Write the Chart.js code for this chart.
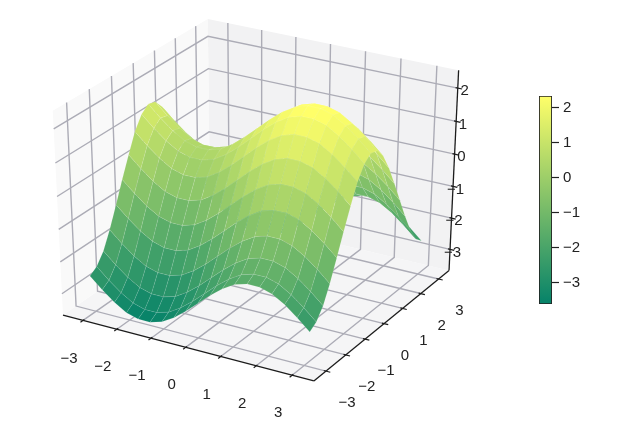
<!DOCTYPE html>
<html lang="en">
<head>
    <meta charset="UTF-8">
    <title>Surface</title>
    <script src="https://cdn.jsdelivr.net/npm/chart.js"></script>
    <style>
        html, body { margin: 0; padding: 0; background: #fff; overflow: hidden; }
        canvas { position: absolute; }
        #surfaceChart { left: 0; top: 0; }
        #colorbarChart { left: 537px; top: 83px; }
    </style>
</head>
<body>
<canvas id="surfaceChart" width="640" height="441"></canvas>
<canvas id="colorbarChart" width="60" height="234"></canvas>
<script>
    // values
    const xValues = [-3.14, -2.79, -2.44, -2.09, -1.75, -1.40, -1.05, -0.70, -0.35, 0, 0.35, 0.70, 1.05, 1.40, 1.75, 2.09, 2.44, 2.79, 3.14];
    const yValues = [-3.00, -2.68, -2.35, -2.03, -1.70, -1.38, -1.05, -0.73, -0.40, -0.08, 0.25, 0.57, 0.90, 1.22, 1.55, 1.87, 2.20, 2.52, 2.85];
    // one row per y value, one column per x value
    const zRows = [
        [-2.60, -2.94, -3.24, -3.47, -3.58, -3.58, -3.47, -3.24, -2.94, -2.60, -2.26, -1.96, -1.73, -1.62, -1.62, -1.73, -1.96, -2.26, -2.60],
        [-2.45, -2.79, -3.09, -3.32, -3.43, -3.43, -3.32, -3.09, -2.79, -2.45, -2.11, -1.81, -1.58, -1.47, -1.47, -1.58, -1.81, -2.11, -2.45],
        [-2.11, -2.45, -2.75, -2.98, -3.09, -3.09, -2.98, -2.75, -2.45, -2.11, -1.77, -1.47, -1.24, -1.13, -1.13, -1.24, -1.47, -1.77, -2.11],
        [-1.59, -1.93, -2.23, -2.46, -2.57, -2.57, -2.46, -2.23, -1.93, -1.59, -1.25, -0.95, -0.72, -0.61, -0.61, -0.72, -0.95, -1.25, -1.59],
        [-0.96, -1.30, -1.60, -1.83, -1.94, -1.94, -1.83, -1.60, -1.30, -0.96, -0.62, -0.32, -0.09, 0.02, 0.02, -0.09, -0.32, -0.62, -0.96],
        [-0.32, -0.66, -0.96, -1.19, -1.30, -1.30, -1.19, -0.96, -0.66, -0.32, 0.02, 0.32, 0.55, 0.66, 0.66, 0.55, 0.32, 0.02, -0.32],
        [0.30, -0.04, -0.34, -0.57, -0.68, -0.68, -0.57, -0.34, -0.04, 0.30, 0.64, 0.94, 1.17, 1.28, 1.28, 1.17, 0.94, 0.64, 0.30],
        [0.87, 0.53, 0.23, 0, -0.11, -0.11, 0, 0.23, 0.53, 0.87, 1.21, 1.51, 1.74, 1.85, 1.85, 1.74, 1.51, 1.21, 0.87],
        [1.26, 0.92, 0.62, 0.39, 0.28, 0.28, 0.39, 0.62, 0.92, 1.26, 1.60, 1.90, 2.13, 2.24, 2.24, 2.13, 1.90, 1.60, 1.26],
        [1.44, 1.10, 0.80, 0.57, 0.46, 0.46, 0.57, 0.80, 1.10, 1.44, 1.78, 2.08, 2.31, 2.42, 2.42, 2.31, 2.08, 1.78, 1.44],
        [1.38, 1.04, 0.74, 0.51, 0.40, 0.40, 0.51, 0.74, 1.04, 1.38, 1.72, 2.02, 2.25, 2.36, 2.36, 2.25, 2.02, 1.72, 1.38],
        [1.10, 0.76, 0.46, 0.23, 0.12, 0.12, 0.23, 0.46, 0.76, 1.10, 1.44, 1.74, 1.97, 2.08, 2.08, 1.97, 1.74, 1.44, 1.10],
        [0.60, 0.26, -0.04, -0.27, -0.38, -0.38, -0.27, -0.04, 0.26, 0.60, 0.94, 1.24, 1.47, 1.58, 1.58, 1.47, 1.24, 0.94, 0.60],
        [-0.01, -0.35, -0.65, -0.88, -0.99, -0.99, -0.88, -0.65, -0.35, -0.01, 0.33, 0.63, 0.86, 0.97, 0.97, 0.86, 0.63, 0.33, -0.01],
        [-0.66, -1.00, -1.30, -1.53, -1.64, -1.64, -1.53, -1.30, -1.00, -0.66, -0.32, -0.02, 0.21, 0.32, 0.32, 0.21, -0.02, -0.32, -0.66],
        [-1.29, -1.63, -1.93, -2.16, -2.27, -2.27, -2.16, -1.93, -1.63, -1.29, -0.95, -0.65, -0.42, -0.31, -0.31, -0.42, -0.65, -0.95, -1.29],
        [-1.88, -2.22, -2.52, -2.75, -2.86, -2.86, -2.75, -2.52, -2.22, -1.88, -1.54, -1.24, -1.01, -0.90, -0.90, -1.01, -1.24, -1.54, -1.88],
        [-2.30, -2.64, -2.94, -3.17, -3.28, -3.28, -3.17, -2.94, -2.64, -2.30, -1.96, -1.66, -1.43, -1.32, -1.32, -1.43, -1.66, -1.96, -2.30],
        [-2.50, -2.84, -3.14, -3.37, -3.48, -3.48, -3.37, -3.14, -2.84, -2.50, -2.16, -1.86, -1.63, -1.52, -1.52, -1.63, -1.86, -2.16, -2.50]
    ];
    const xTicks = [-3, -2, -1, 0, 1, 2, 3];
    const yTicks = [-3, -2, -1, 0, 1, 2, 3];
    const zTicks = [-3, -2, -1, 0, 1, 2];
    const xBox = [-3.6, 3.6];
    const yBox = [-3.6, 3.6];
    const zBox = [-3.68, 2.53];
    const colorTicks = [-3, -2, -1, 0, 1, 2];
    const colorRange = [-3.6, 2.33];

    const fontName = "'Liberation Sans', Arial, sans-serif";
    const tickText = v => String(v).replace('-', '\u2212');

    // same camera as a matplotlib 3d axes: elev 30, azim -60, dist 10
    function toCube(x, y, z) {
        return [
            (x - xBox[0]) / (xBox[1] - xBox[0]) - 0.5,
            (y - yBox[0]) / (yBox[1] - yBox[0]) - 0.5,
            (z - zBox[0]) / (zBox[1] - zBox[0]) - 0.5
        ];
    }
    function depth(x, y, z) {
        const c = toCube(x, y, z);
        return 10 - (0.433 * c[0] - 0.75 * c[1] + 0.5 * c[2]);
    }
    function project(x, y, z) {
        const c = toCube(x, y, z);
        const d = depth(x, y, z);
        return {
            x: (0.866 * c[0] + 0.5 * c[1]) / d,
            y: (-0.25 * c[0] + 0.433 * c[1] + 0.866 * c[2]) / d
        };
    }

    // matplotlib "summer"
    function summer(v) {
        const t = Math.max(0, Math.min(1, (v - colorRange[0]) / (colorRange[1] - colorRange[0])));
        const wash = c => Math.round(c * 0.98 + 255 * 0.02);
        return `rgb(${wash(255 * t)},${wash(127.5 + 127.5 * t)},${wash(102)})`;
    }

    function lineSet(points, color, width) {
        return {
            data: points.map(p => project(p[0], p[1], p[2])),
            showLine: true, pointRadius: 0, borderColor: color, borderWidth: width, fill: false
        };
    }

    // surface cells, nearest first because Chart.js paints the first dataset last
    const cells = [];
    for (let r = 0; r < yValues.length - 1; r++) {
        for (let c = 0; c < xValues.length - 1; c++) {
            const corners = [
                [xValues[c], yValues[r], zRows[r][c]],
                [xValues[c + 1], yValues[r], zRows[r][c + 1]],
                [xValues[c + 1], yValues[r + 1], zRows[r + 1][c + 1]],
                [xValues[c], yValues[r + 1], zRows[r + 1][c]]
            ];
            const zMean = corners.reduce((s, p) => s + p[2], 0) / 4;
            const dist = corners.reduce((s, p) => s + depth(p[0], p[1], p[2]), 0) / 4;
            cells.push({corners, zMean, dist});
        }
    }
    cells.sort((a, b) => a.dist - b.dist);
    const cellSets = cells.map(cell => {
        const set = lineSet(cell.corners.concat([cell.corners[0]]), 'rgba(255,255,255,0.12)', 0.7);
        set.polyFill = summer(cell.zMean);
        return set;
    });

    const axisColor = '#1c1c1c';
    const gridColor = '#acacb6';
    const tickSets = [];
    xTicks.forEach(v => tickSets.push(lineSet([[v, yBox[0] - 0.12, zBox[0]], [v, yBox[0] + 0.06, zBox[0]]], axisColor, 1.2)));
    yTicks.forEach(v => tickSets.push(lineSet([[xBox[1] + 0.12, v, zBox[0]], [xBox[1] - 0.06, v, zBox[0]]], axisColor, 1.2)));
    zTicks.forEach(v => tickSets.push(lineSet([[xBox[1] + 0.12, yBox[1], v], [xBox[1] - 0.06, yBox[1], v]], axisColor, 1.2)));

    const axisSets = [
        lineSet([[xBox[0], yBox[0], zBox[0]], [xBox[1], yBox[0], zBox[0]]], axisColor, 1.3),
        lineSet([[xBox[1], yBox[0], zBox[0]], [xBox[1], yBox[1], zBox[0]]], axisColor, 1.3),
        lineSet([[xBox[1], yBox[1], zBox[0]], [xBox[1], yBox[1], zBox[1]]], axisColor, 1.3)
    ];

    const gridSets = [];
    xTicks.forEach(v => gridSets.push(lineSet([[v, yBox[0], zBox[0]], [v, yBox[1], zBox[0]], [v, yBox[1], zBox[1]]], gridColor, 1.4)));
    yTicks.forEach(v => gridSets.push(lineSet([[xBox[0], v, zBox[1]], [xBox[0], v, zBox[0]], [xBox[1], v, zBox[0]]], gridColor, 1.4)));
    zTicks.forEach(v => gridSets.push(lineSet([[xBox[0], yBox[0], v], [xBox[0], yBox[1], v], [xBox[1], yBox[1], v]], gridColor, 1.4)));

    function pane(points, fillColor) {
        const set = lineSet(points.concat([points[0]]), 'rgba(0,0,0,0)', 0);
        set.polyFill = fillColor;
        return set;
    }
    const paneSets = [
        pane([[xBox[0], yBox[0], zBox[0]], [xBox[0], yBox[1], zBox[0]], [xBox[0], yBox[1], zBox[1]], [xBox[0], yBox[0], zBox[1]]], 'rgb(249,249,249)'),
        pane([[xBox[0], yBox[1], zBox[0]], [xBox[1], yBox[1], zBox[0]], [xBox[1], yBox[1], zBox[1]], [xBox[0], yBox[1], zBox[1]]], 'rgb(242,242,243)'),
        pane([[xBox[0], yBox[0], zBox[0]], [xBox[1], yBox[0], zBox[0]], [xBox[1], yBox[1], zBox[0]], [xBox[0], yBox[1], zBox[0]]], 'rgb(245,245,246)')
    ];

    // closes the polygon of a dataset and fills it, the line element only strokes
    const polygonFill = {
        id: 'polygonFill',
        beforeDatasetDraw(chart, args) {
            const color = chart.data.datasets[args.index].polyFill;
            if (!color) return;
            const pts = args.meta.data;
            const ctx = chart.ctx;
            ctx.save();
            ctx.beginPath();
            pts.forEach((p, i) => i ? ctx.lineTo(p.x, p.y) : ctx.moveTo(p.x, p.y));
            ctx.closePath();
            ctx.fillStyle = color;
            ctx.fill();
            ctx.restore();
        }
    };

    // tick labels of the three axes, placed from the scales
    const axisLabels = {
        id: 'axisLabels',
        afterDatasetsDraw(chart) {
            const ctx = chart.ctx;
            const sx = chart.scales.x;
            const sy = chart.scales.y;
            const put = (v, p, dx, dy) => {
                ctx.fillText(tickText(v), sx.getPixelForValue(p.x) + dx, sy.getPixelForValue(p.y) + dy);
            };
            ctx.save();
            ctx.font = '15px ' + fontName;
            ctx.fillStyle = '#222';
            ctx.textBaseline = 'middle';
            ctx.textAlign = 'center';
            xTicks.forEach(v => put(v, project(v, yBox[0], zBox[0]), -14, 38));
            yTicks.forEach(v => put(v, project(xBox[1], v, zBox[0]), 21, 32));
            ctx.textAlign = 'right';
            zTicks.forEach(v => put(v, project(xBox[1], yBox[1], v), 11, 3));
            ctx.restore();
        }
    };

    new Chart(document.getElementById('surfaceChart'), {
        type: 'scatter',
        data: {datasets: cellSets.concat(tickSets, axisSets, gridSets, paneSets)},
        plugins: [polygonFill, axisLabels],
        options: {
            responsive: false,
            animation: false,
            layout: {padding: 0},
            plugins: {legend: {display: false}, tooltip: {enabled: false}},
            scales: {
                x: {type: 'linear', display: false, min: -0.08943, max: 0.13156},
                y: {type: 'linear', display: false, min: -0.10591, max: 0.08303}
            }
        }
    });

    new Chart(document.getElementById('colorbarChart'), {
        type: 'bar',
        data: {
            labels: [''],
            datasets: [{
                data: [colorRange],
                categoryPercentage: 1,
                barPercentage: 1,
                borderColor: '#222',
                borderWidth: 1.2,
                borderSkipped: false,
                backgroundColor(context) {
                    const area = context.chart.chartArea;
                    if (!area) return 'transparent';
                    const g = context.chart.ctx.createLinearGradient(0, area.bottom, 0, area.top);
                    g.addColorStop(0, summer(colorRange[0]));
                    g.addColorStop(1, summer(colorRange[1]));
                    return g;
                }
            }]
        },
        options: {
            responsive: false,
            animation: false,
            layout: {padding: {left: 2, top: 0, bottom: 0, right: 0}},
            plugins: {legend: {display: false}, tooltip: {enabled: false}},
            scales: {
                x: {display: false},
                y: {
                    position: 'right',
                    min: colorRange[0],
                    max: colorRange[1],
                    afterBuildTicks(scale) { scale.ticks = colorTicks.map(v => ({value: v})); },
                    afterFit(scale) { scale.width = 45; },
                    grid: {drawOnChartArea: false, tickLength: 7, tickColor: '#222', tickWidth: 1.2},
                    border: {display: false},
                    ticks: {
                        autoSkip: false,
                        padding: 4,
                        color: '#222',
                        font: {family: fontName, size: 15},
                        callback: v => tickText(v)
                    }
                }
            }
        }
    });
</script>
</body>
</html>
